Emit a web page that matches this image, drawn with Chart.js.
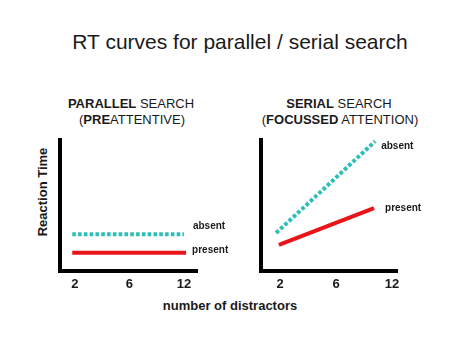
<!DOCTYPE html>
<html>
<head>
<meta charset="utf-8">
<script src="https://cdn.jsdelivr.net/npm/chart.js@4/dist/chart.umd.min.js"></script>
<style>
  html, body { margin: 0; padding: 0; background: #fff; }
  #wrap { position: relative; width: 474px; height: 355px; overflow: hidden; font-family: "Liberation Sans", Arial, sans-serif; color: #1a1a1a; }
  canvas { position: absolute; left: 0; top: 0; }
  .txt { position: absolute; white-space: nowrap; transform: translate(-50%, -50%); }
  .main { font-size: 21px; }
  .sub { font-size: 13px; }
  .axt { font-size: 13px; font-weight: bold; }
</style>
</head>
<body>
<div id="wrap">
  <div class="txt main" style="left:240px; top:42px;">RT curves for parallel / serial search</div>
  <div class="txt sub" style="left:131px; top:103px;"><b>PARALLEL</b> SEARCH</div>
  <div class="txt sub" style="left:132px; top:119px;">(<b>PRE</b>ATTENTIVE)</div>
  <div class="txt sub" style="left:339px; top:103px;"><b>SERIAL</b> SEARCH</div>
  <div class="txt sub" style="left:340px; top:119px;">(<b>FOCUSSED</b> ATTENTION)</div>
  <div class="txt axt" style="left:42px; top:192px; transform: translate(-50%, -50%) rotate(-90deg);">Reaction Time</div>
  <div class="txt axt" style="left:230px; top:305px;">number of distractors</div>
  <canvas id="parallel-chart" width="474" height="355"></canvas>
  <canvas id="serial-chart" width="474" height="355"></canvas>
</div>
<script>
// tick labels (evenly spaced, x values below are in tick-position units)
const xTickLabels = ['2', '6', '12'];

// parallel search
const parallelAbsentX = [-0.05, 2.0];
const parallelAbsentY = [28, 28];
const parallelPresentX = [-0.05, 2.04];
const parallelPresentY = [14, 14];

// serial search
const serialAbsentX = [-0.07, 1.70];
const serialAbsentY = [29, 99];
const serialPresentX = [-0.02, 1.68];
const serialPresentY = [20, 48];

const TEAL = 'rgb(45,190,185)';
const RED = 'rgb(232,20,24)';

function pts(xs, ys) {
  return xs.map((x, i) => ({ x, y: ys[i] }));
}

// draws dataset label next to its last point
const endLabels = {
  id: 'endLabels',
  afterDatasetsDraw(chart) {
    const ctx = chart.ctx;
    ctx.save();
    ctx.font = 'bold 10px "Liberation Sans", Arial, sans-serif';
    ctx.fillStyle = '#1a1a1a';
    ctx.textBaseline = 'middle';
    ctx.textAlign = 'left';
    chart.data.datasets.forEach((ds, i) => {
      const meta = chart.getDatasetMeta(i);
      const last = meta.data[meta.data.length - 1];
      if (!last) return;
      const off = ds.labelOffset || [6, 0];
      ctx.fillText(ds.label, last.x + off[0], last.y + off[1]);
    });
    ctx.restore();
  }
};

function makeChart(id, datasets, xMin, xMax, area) {
  return new Chart(document.getElementById(id), {
    type: 'line',
    data: { datasets },
    options: {
      responsive: false,
      animation: false,
      devicePixelRatio: 1,
      layout: { padding: { left: area.left, right: 474 - area.right, top: area.top, bottom: 355 - area.bottom - 30 } },
      plugins: { legend: { display: false }, tooltip: { enabled: false }, title: { display: false } },
      elements: { point: { radius: 0 }, line: { tension: 0 } },
      scales: {
        x: {
          type: 'linear',
          min: xMin,
          max: xMax,
          afterFit: s => { s.height = 30; },
          afterBuildTicks: s => { s.ticks = xTickLabels.map((_, i) => ({ value: i })); },
          grid: { display: false, drawTicks: false },
          border: { color: '#000', width: 4 },
          ticks: {
            padding: 6,
            color: '#1a1a1a',
            font: { family: '"Liberation Sans", Arial, sans-serif', size: 13, weight: 'bold' },
            callback: (v) => xTickLabels[Math.round(v)]
          }
        },
        y: {
          min: 0,
          max: 100,
          afterFit: s => { s.width = 0; },
          grid: { display: false, drawTicks: false },
          border: { color: '#000', width: 4 },
          ticks: { display: false }
        }
      }
    },
    plugins: [endLabels]
  });
}

makeChart('parallel-chart', [
  { label: 'absent', data: pts(parallelAbsentX, parallelAbsentY), borderColor: TEAL, borderWidth: 4, borderDash: [3.6, 2.2], clip: false, labelOffset: [9, -8.5] },
  { label: 'present', data: pts(parallelPresentX, parallelPresentY), borderColor: RED, borderWidth: 4, clip: false, labelOffset: [6, -2.5] }
], -0.275, 2.24, { left: 60, right: 197, top: 140, bottom: 271 });

makeChart('serial-chart', [
  { label: 'absent', data: pts(serialAbsentX, serialAbsentY), borderColor: TEAL, borderWidth: 4, borderDash: [3.6, 2.2], clip: false, labelOffset: [6, 5] },
  { label: 'present', data: pts(serialPresentX, serialPresentY), borderColor: RED, borderWidth: 4, clip: false, labelOffset: [11, 0] }
], -0.34, 2.09, { left: 261, right: 397, top: 140, bottom: 271 });
</script>
</body>
</html>
